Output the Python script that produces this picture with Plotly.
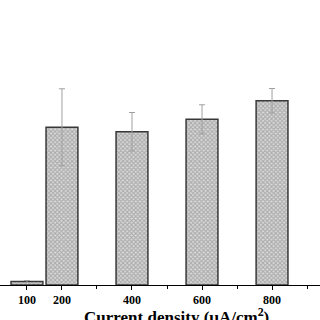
import plotly.graph_objects as go

categories = [100, 200, 400, 600, 800]
values = [3.5, 157.7, 153.3, 165.7, 184.3]
errors = [1.0, 38.5, 19.2, 14.5, 12.2]
tick_vals = [100, 200, 400, 600, 800]
tick_text = ["100", "200", "400", "600", "800"]
x_title = "Current density (μA/cm<sup>2</sup>)"

fig = go.Figure()
fig.add_trace(go.Bar(
    x=categories, y=values, width=91,
    marker=dict(
        color="#d0d0d0",
        line=dict(color="#383838", width=1.5),
        pattern=dict(shape="x", size=3, solidity=0.6, fgcolor="#7c7c7c", bgcolor="#dcdcdc"),
    ),
    error_y=dict(type="data", array=errors, visible=True, color="#a0a0a0", thickness=1, width=3),
))

fig.add_annotation(
    text=x_title, xref="paper", yref="paper", x=0.55, y=0,
    xanchor="center", yanchor="top", yshift=-18, showarrow=False,
    font=dict(size=17, family="Liberation Serif", weight="bold", color="black"),
)

fig.update_layout(
    width=320, height=320,
    margin=dict(l=0, r=0, t=0, b=35),
    paper_bgcolor="white", plot_bgcolor="white",
    showlegend=False,
    font=dict(family="Liberation Serif", color="black"),
    xaxis=dict(
        range=[23, 937], tickvals=tick_vals, ticktext=tick_text, automargin=False,
        ticks="outside", ticklen=4, tickwidth=1, tickcolor="black",
        showline=True, linecolor="black", linewidth=1, showgrid=False, zeroline=False,
        tickfont=dict(size=12, family="Liberation Serif", weight="bold"),
        minor=dict(tick0=100, dtick=200, ticks="outside", ticklen=3, tickcolor="black", showgrid=False),
    ),
    yaxis=dict(range=[0, 285], visible=False, automargin=False),
)

fig.write_html("out.html")
